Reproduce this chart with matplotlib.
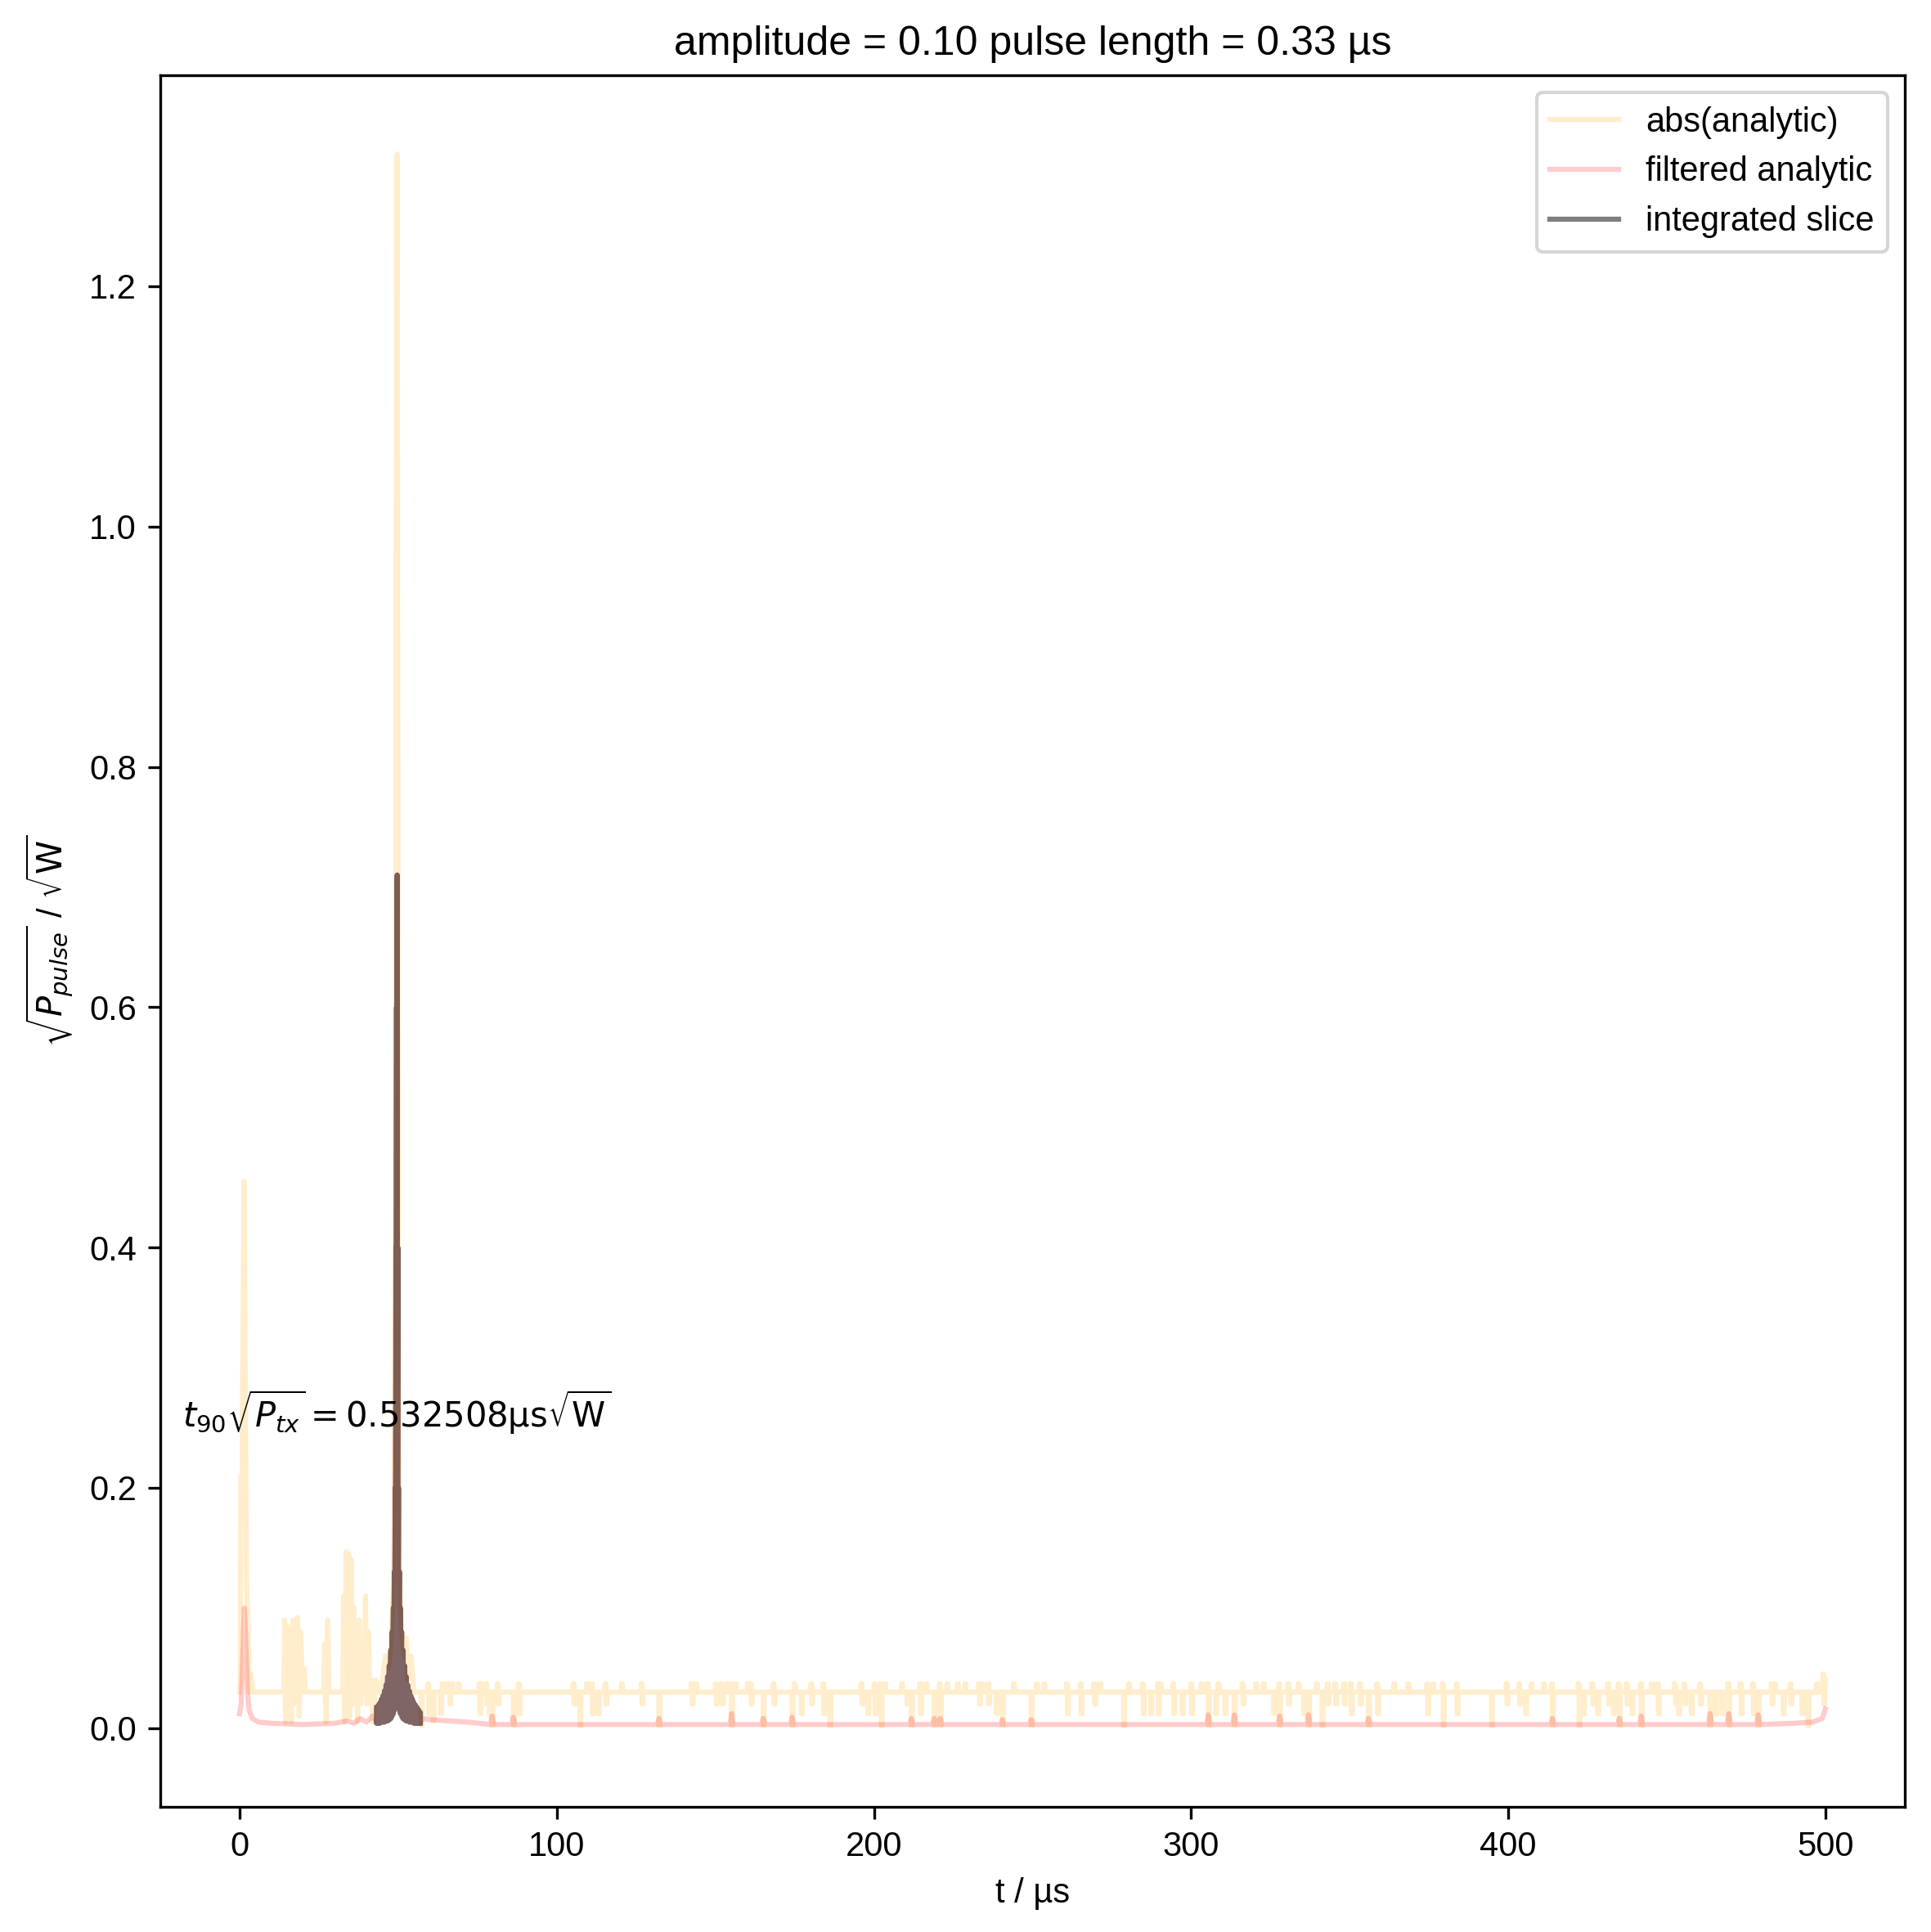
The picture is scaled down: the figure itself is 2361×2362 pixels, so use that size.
import numpy as np
import matplotlib.pyplot as plt

plt.rcParams['font.family'] = ['Liberation Sans', 'DejaVu Sans']
plt.rcParams['font.size'] = 10

# abs(analytic) around the two pulses, t in µs
head_t = [0.0, 0.2, 0.4, 0.8, 1.0, 1.4, 1.8, 2.2, 2.6, 3.0, 3.6, 4.2,
          14.0, 14.2, 14.5, 15.0, 15.4, 15.8, 16.3, 16.8, 17.2, 17.7, 18.3, 18.8,
          19.3, 19.8, 20.3, 20.8, 26.5, 26.8, 27.2, 27.8, 28.2, 32.5, 32.8, 33.2,
          33.6, 34.0, 34.4, 34.8, 35.2, 35.6, 36.0, 36.4, 36.8, 37.2, 37.7, 38.2,
          38.7, 39.2, 39.7, 40.2, 40.7, 41.0, 41.5, 42.0, 43.0, 44.0, 45.0, 46.0,
          47.0, 47.8, 48.5, 49.0, 49.3, 49.5, 49.7, 49.9, 50.1, 50.4, 50.8, 51.4,
          52.0, 52.5, 53.0, 54.0, 55.0, 56.0]
head_v = [0.030, 0.040, 0.210, 0.210, 0.300, 0.455, 0.300, 0.120, 0.090, 0.030, 0.045, 0.030,
          0.030, 0.090, 0.005, 0.085, 0.060, 0.080, 0.005, 0.090, 0.020, 0.085, 0.092, 0.010,
          0.080, 0.030, 0.050, 0.030, 0.030, 0.070, 0.005, 0.090, 0.030, 0.030, 0.110, 0.005,
          0.147, 0.060, 0.145, 0.010, 0.140, 0.020, 0.100, 0.030, 0.080, 0.005, 0.090, 0.020,
          0.060, 0.030, 0.110, 0.020, 0.080, 0.030, 0.040, 0.005, 0.040, 0.030, 0.040, 0.060,
          0.050, 0.070, 0.120, 0.300, 0.800, 1.200, 1.310, 0.800, 0.300, 0.120, 0.090, 0.070,
          0.060, 0.075, 0.040, 0.060, 0.030, 0.030]

# baseline glitches of abs(analytic) after the pulse
base_level = 0.030
glitch_t = [57.2, 59.6, 61.0, 63.4, 64.2, 65.3, 66.3, 67.2, 69.3, 75.8, 76.3, 77.9,
            78.7, 79.6, 81.5, 86.3, 88.2, 105.4, 107.3, 109.7, 111.2, 113.1, 115.5, 120.7,
            126.9, 132.2, 142.7, 144.1, 150.3, 152.2, 154.1, 155.1, 156.5, 160.4, 161.3, 165.1,
            168.5, 174.2, 175.2, 177.1, 180.4, 184.2, 186.1, 196.2, 198.1,
            200.4, 202.3, 203.7, 209.0, 210.4, 211.8, 214.7, 216.6, 219.0, 220.9, 223.3, 226.6,
            229.0, 233.3, 234.3, 236.2, 238.6, 240.5, 244.3, 249.6, 251.5, 253.9, 261.0, 265.3,
            269.6, 271.5, 278.7, 280.6, 284.9, 287.3, 289.7, 290.6, 294.5, 297.3, 300.2, 303.5,
            305.4, 307.8, 308.8, 310.7, 313.6, 316.4, 320.7, 323.1, 326.0, 327.9, 330.8, 334.1,
            335.5, 337.0, 339.8, 341.3, 343.2, 345.6, 348.4,
            350.5, 353.4, 355.9, 358.8, 364.2, 368.7, 374.6, 376.5, 379.5, 383.9, 394.7, 399.6,
            403.6, 405.5, 407.5, 411.4, 413.9, 422.3, 423.7, 426.7, 428.2, 431.6, 433.1, 435.0,
            437.5, 439.0, 441.9, 445.4, 447.3, 452.7, 453.7, 455.7, 457.7, 460.6, 463.6, 465.5,
            467.5, 469.5, 473.4, 477.3, 478.8, 483.2, 484.2, 486.7, 489.1, 492.6, 494.5, 497.5,
            499.5]
glitch_hi = [0.030, 0.037, 0.030, 0.030, 0.037, 0.037, 0.037, 0.037, 0.037, 0.037, 0.037, 0.037,
             0.030, 0.030, 0.037, 0.030, 0.037, 0.037, 0.030, 0.037, 0.037, 0.030, 0.037, 0.037,
             0.037, 0.030, 0.037, 0.037, 0.037, 0.037, 0.037, 0.037, 0.037, 0.037, 0.037, 0.030,
             0.037, 0.030, 0.037, 0.030, 0.037, 0.037, 0.030, 0.037, 0.030,
             0.037, 0.037, 0.037, 0.037, 0.030, 0.030, 0.037, 0.037, 0.030, 0.037, 0.037, 0.037,
             0.037, 0.037, 0.037, 0.037, 0.030, 0.030, 0.037, 0.030, 0.037, 0.037, 0.037, 0.037,
             0.037, 0.037, 0.030, 0.037, 0.037, 0.030, 0.037, 0.037, 0.037, 0.030, 0.037, 0.037,
             0.037, 0.030, 0.037, 0.030, 0.030, 0.037, 0.037, 0.037, 0.030, 0.037, 0.037, 0.037,
             0.030, 0.030, 0.037, 0.030, 0.037, 0.037, 0.037,
             0.037, 0.037, 0.030, 0.037, 0.037, 0.037, 0.037, 0.037, 0.037, 0.037, 0.030, 0.037,
             0.037, 0.030, 0.037, 0.037, 0.037, 0.037, 0.030, 0.037, 0.030, 0.037, 0.030, 0.037,
             0.037, 0.030, 0.037, 0.037, 0.037, 0.037, 0.030, 0.037, 0.030, 0.037, 0.030, 0.030,
             0.030, 0.037, 0.037, 0.037, 0.030, 0.037, 0.037, 0.030, 0.037, 0.030, 0.030, 0.037,
             0.045]
glitch_lo = [0.002, 0.012, 0.006, 0.012, 0.030, 0.030, 0.020, 0.030, 0.030, 0.012, 0.030, 0.020,
             0.012, 0.002, 0.020, 0.002, 0.012, 0.020, 0.002, 0.030, 0.012, 0.012, 0.020, 0.030,
             0.020, 0.002, 0.020, 0.030, 0.020, 0.020, 0.030, 0.002, 0.030, 0.030, 0.020, 0.002,
             0.020, 0.002, 0.030, 0.012, 0.020, 0.012, 0.002, 0.020, 0.012,
             0.012, 0.002, 0.030, 0.030, 0.020, 0.002, 0.012, 0.030, 0.002, 0.002, 0.030, 0.030,
             0.030, 0.020, 0.030, 0.020, 0.012, 0.002, 0.030, 0.002, 0.030, 0.030, 0.012, 0.012,
             0.020, 0.030, 0.002, 0.030, 0.012, 0.012, 0.012, 0.030, 0.012, 0.012, 0.012, 0.030,
             0.002, 0.012, 0.030, 0.012, 0.002, 0.020, 0.030, 0.030, 0.012, 0.002, 0.020, 0.030,
             0.012, 0.002, 0.030, 0.002, 0.020, 0.020, 0.020,
             0.012, 0.020, 0.002, 0.012, 0.030, 0.030, 0.012, 0.030, 0.002, 0.012, 0.002, 0.020,
             0.020, 0.012, 0.030, 0.030, 0.002, 0.002, 0.012, 0.020, 0.012, 0.020, 0.012, 0.002,
             0.020, 0.012, 0.002, 0.030, 0.012, 0.020, 0.012, 0.020, 0.012, 0.020, 0.002, 0.012,
             0.012, 0.002, 0.012, 0.012, 0.002, 0.020, 0.030, 0.012, 0.020, 0.012, 0.002, 0.030,
             0.020]

# filtered analytic before the pulse slice
filt_head_t = [0.0, 0.5, 1.0, 1.5, 2.0, 2.5, 3.0, 4.0, 6.0, 10.0, 20.0, 30.0, 34.0, 36.0,
               38.0, 40.0, 42.0, 43.0]
filt_head_v = [0.012, 0.020, 0.060, 0.100, 0.070, 0.030, 0.015, 0.008, 0.005, 0.004, 0.003,
               0.004, 0.006, 0.004, 0.008, 0.005, 0.010, 0.006]
# filtered analytic after the pulse slice
filt_tail_t = [57.5, 60.0, 66.0, 72.0, 80.0, 100.0, 150.0, 300.0, 490.0, 496.0, 499.0, 500.0]
filt_tail_v = [0.008, 0.007, 0.006, 0.005, 0.004, 0.003, 0.003, 0.003, 0.004, 0.005, 0.008, 0.016]
filt_base = 0.003
filt_bump_t = [79.6, 86.3, 132.2, 155.1, 165.1, 174.2, 211.8, 219.0, 220.9, 240.5, 249.6,
               305.4, 313.6, 327.9, 337.0, 355.9, 413.9, 435.0, 441.9, 463.6, 469.5, 478.8]
filt_bump_v = [0.010, 0.009, 0.008, 0.012, 0.008, 0.009, 0.008, 0.008, 0.008, 0.007, 0.007,
               0.011, 0.011, 0.010, 0.011, 0.008, 0.008, 0.008, 0.010, 0.012, 0.012, 0.011]

# integrated slice: fast oscillation, upper and lower turning points
slice_t = [43.2, 43.7, 44.2, 44.7, 45.2, 45.7, 46.2, 46.7, 47.2, 47.7, 48.1, 48.5, 48.8,
           49.1, 49.3, 49.5, 49.7, 49.9, 50.1, 50.4, 50.7, 51.1, 51.5, 52.0, 52.5, 53.0,
           53.5, 54.0, 54.5, 55.0, 55.5, 56.0, 56.5, 57.0]
slice_hi = [0.017, 0.019, 0.021, 0.024, 0.027, 0.031, 0.036, 0.043, 0.052, 0.065, 0.080,
            0.100, 0.130, 0.200, 0.400, 0.600, 0.710, 0.400, 0.200, 0.130, 0.100, 0.080,
            0.065, 0.052, 0.043, 0.036, 0.031, 0.027, 0.024, 0.021, 0.019, 0.017, 0.015, 0.013]
slice_lo = [0.004, 0.004, 0.004, 0.005, 0.005, 0.005, 0.006, 0.006, 0.007, 0.008, 0.010,
            0.012, 0.015, 0.020, 0.025, 0.030, 0.030, 0.025, 0.020, 0.015, 0.012, 0.010,
            0.008, 0.007, 0.006, 0.006, 0.005, 0.005, 0.005, 0.004, 0.004, 0.004, 0.004, 0.004]

t90_value = 0.532508
amplitude = 0.10
pulse_length = 0.33

# abs(analytic): head, then rectangular glitches on the baseline
abs_t = list(head_t)
abs_v = list(head_v)
for g, hi, lo in zip(glitch_t, glitch_hi, glitch_lo):
    abs_t += [g - 0.3, g - 0.3, g, g, g + 0.3, g + 0.3]
    abs_v += [base_level, hi, hi, lo, lo, base_level]
abs_t.append(500.0)
abs_v.append(0.040)

# integrated slice as a sawtooth between turning points
sl_t = list(np.repeat(slice_t, 2))
sl_v = list(np.column_stack([slice_hi, slice_lo]).ravel())

# filtered analytic: head, the slice itself, tail with narrow bumps
tail = list(zip(filt_tail_t, filt_tail_v))
for b, v in zip(filt_bump_t, filt_bump_v):
    tail += [(b - 0.5, filt_base), (b, v), (b + 0.5, filt_base)]
tail.sort()
filt_t = filt_head_t + sl_t + [p[0] for p in tail]
filt_v = filt_head_v + sl_v + [p[1] for p in tail]

fig = plt.figure(figsize=(2361 / 300, 2362 / 300), dpi=300)
ax = fig.add_axes([0.083, 0.0648, 0.9034, 0.8962])

ax.plot(abs_t, abs_v, color='orange', alpha=0.2, label='abs(analytic)')
ax.plot(filt_t, filt_v, color='red', alpha=0.2, label='filtered analytic')
ax.plot(sl_t, sl_v, color='black', alpha=0.5, label='integrated slice')

ax.text(-18, 0.25, r'$t_{90}\sqrt{P_{tx}} = %g\mathrm{\mu s}\sqrt{\mathrm{W}}$' % t90_value,
        va='baseline')

ax.set_xlim(-25, 525)
ax.set_ylim(-0.0655, 1.3755)
ax.set_xlabel('t / µs')
ax.set_ylabel(r'$\sqrt{P_{pulse}}$ / $\sqrt{\mathrm{W}}$')
ax.set_title('amplitude = %.2f pulse length = %.2f µs' % (amplitude, pulse_length))
ax.legend(loc='upper right')

fig.savefig('out.png', dpi=300)
